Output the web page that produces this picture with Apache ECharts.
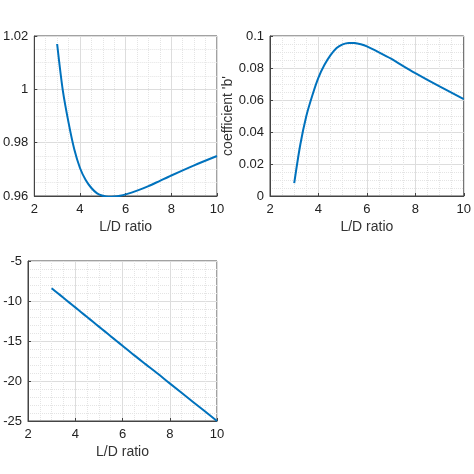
<!DOCTYPE html>
<html>
<head>
<meta charset="utf-8">
<script src="https://cdn.jsdelivr.net/npm/echarts@6/dist/echarts.min.js"></script>
<style>html,body{margin:0;background:#fff}#c{width:474px;height:474px}</style>
</head>
<body>
<div id="c"></div>
<script>
// L/D ratio samples
const ldRatio = [3, 3.25, 3.5, 3.75, 4, 4.25, 4.5, 4.75, 5, 5.25, 5.5, 5.75, 6, 6.5, 7, 7.5, 8, 9, 10];
const coeffA = [1.017, 0.9995, 0.9875, 0.9775, 0.9705, 0.966, 0.963, 0.961, 0.9601, 0.9597, 0.9598, 0.9601, 0.9606, 0.962, 0.9637, 0.9657, 0.9677, 0.9715, 0.975];
const coeffB = [0.008, 0.032, 0.050, 0.063, 0.074, 0.082, 0.088, 0.0925, 0.0948, 0.0957, 0.0956, 0.0948, 0.0935, 0.0898, 0.0858, 0.0812, 0.0768, 0.0685, 0.0605];
const coeffC = [-8.4, -9.0, -9.6, -10.2, -10.8, -11.4, -12.0, -12.6, -13.2, -13.8, -14.4, -15.0, -15.6, -16.8, -17.95, -19.1, -20.3, -22.65, -25];

const chart = echarts.init(document.getElementById('c'));
const font = 'Liberation Sans, Arial, sans-serif';

const grids = [
  { left: 28, top: 36, width: 189, height: 160 },
  { left: 270, top: 36, width: 195, height: 160 },
  { left: 28, top: 261, width: 189, height: 160 }
];

function xAxis(i) {
  return {
    gridIndex: i, type: 'value', min: 2, max: 10, interval: 2,
    name: 'L/D ratio', nameLocation: 'middle', nameGap: 24,
    nameTextStyle: { fontFamily: font, fontSize: 14, color: '#333' },
    axisLine: { onZero: false, lineStyle: { color: '#444' } },
    axisTick: { inside: true, length: 3, lineStyle: { color: '#444' } },
    axisLabel: { fontFamily: font, fontSize: 13, color: '#222', margin: 7 },
    splitLine: { show: true, lineStyle: { color: '#ddd' } },
    minorTick: { show: false, splitNumber: 4 },
    minorSplitLine: { show: true, lineStyle: { color: '#e4e4e4', type: 'dotted' } }
  };
}
function yAxis(i, min, max, interval, split, name) {
  return {
    gridIndex: i, type: 'value', min, max, interval,
    name: name || '', nameLocation: 'middle', nameGap: 34,
    nameTextStyle: { fontFamily: font, fontSize: 14, color: '#333' },
    axisLine: { show: true, lineStyle: { color: '#444' } },
    axisTick: { show: true, inside: true, length: 3, lineStyle: { color: '#444' } },
    axisLabel: { fontFamily: font, fontSize: 13, color: '#222', margin: 6 },
    splitLine: { show: true, lineStyle: { color: '#ddd' } },
    minorSplitLine: { show: true, lineStyle: { color: '#e4e4e4', type: 'dotted' } },
    minorTick: { show: false, splitNumber: split }
  };
}
function series(i, vals) {
  return {
    type: 'line', xAxisIndex: i, yAxisIndex: i, smooth: 0.3, showSymbol: false,
    lineStyle: { color: '#0072BD', width: 2 },
    data: ldRatio.map((x, k) => [x, vals[k]])
  };
}

chart.setOption({
  animation: false,
  grid: grids.map(g => Object.assign({ show: true, borderColor: '#444', borderWidth: 1 }, g)),
  xAxis: [xAxis(0), xAxis(1), xAxis(2)],
  yAxis: [
    yAxis(0, 0.96, 1.02, 0.02, 4),
    yAxis(1, 0, 0.1, 0.02, 4, "coefficient 'b'"),
    yAxis(2, -25, -5, 5, 5)
  ],
  series: [series(0, coeffA), series(1, coeffB), series(2, coeffC)]
});
</script>
</body>
</html>
